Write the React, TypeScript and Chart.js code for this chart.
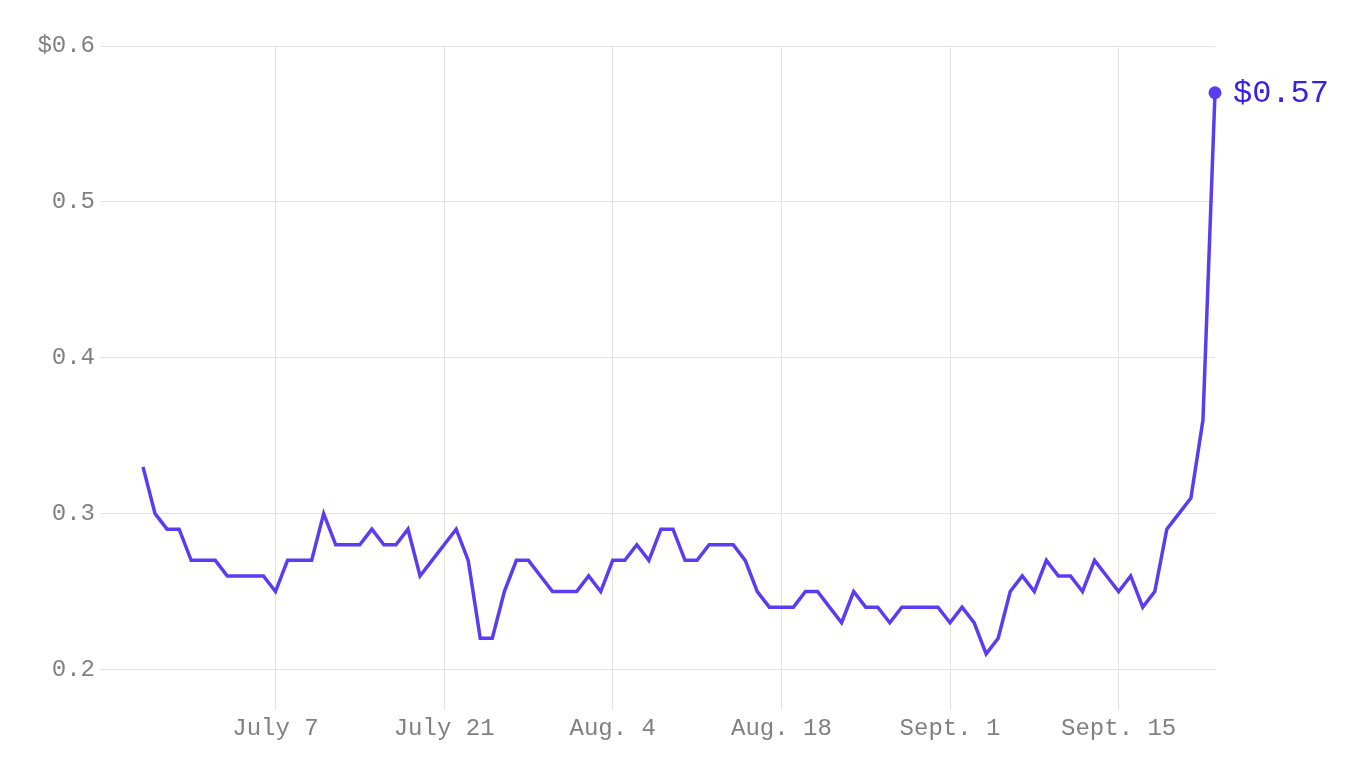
import React, { useEffect, useRef } from "react";
import { Chart, registerables } from "chart.js";

Chart.register(...registerables);

// Daily price, June 26 → Sept. 23
const prices: number[] = [
  0.33, 0.30, 0.29, 0.29, 0.27, // Jun 26-30
  0.27, 0.27, 0.26, 0.26, 0.26, 0.26, 0.25, 0.27, 0.27, 0.27, 0.30, 0.28, 0.28, 0.28, 0.29, 0.28,
  0.28, 0.29, 0.26, 0.27, 0.28, 0.29, 0.27, 0.22, 0.22, 0.25, 0.27, 0.27, 0.26, 0.25, 0.25, // Jul
  0.25, 0.26, 0.25, 0.27, 0.27, 0.28, 0.27, 0.29, 0.29, 0.27, 0.27, 0.28, 0.28, 0.28, 0.27, 0.25,
  0.24, 0.24, 0.24, 0.25, 0.25, 0.24, 0.23, 0.25, 0.24, 0.24, 0.23, 0.24, 0.24, 0.24, 0.24, // Aug
  0.23, 0.24, 0.23, 0.21, 0.22, 0.25, 0.26, 0.25, 0.27, 0.26, 0.26, 0.25, 0.27, 0.26, 0.25, 0.26,
  0.24, 0.25, 0.29, 0.30, 0.31, 0.36, 0.57, // Sep 1-23
];

// x tick positions: days since June 26
const xTickDays: number[] = [11, 25, 39, 53, 67, 81];
const xTickLabels: string[] = ["July 7", "July 21", "Aug. 4", "Aug. 18", "Sept. 1", "Sept. 15"];
const yTickValues: number[] = [0.2, 0.3, 0.4, 0.5, 0.6];
const yTickLabels: string[] = ["0.2", "0.3", "0.4", "0.5", "$0.6"];
const lastLabel = "$0.57";

const LINE = "#5b3cf2";
const LABEL = "#3a20e6";
const GRID = "#e3e3e3";
const TICK = "#808080";
const FONT = "'Liberation Mono', 'DejaVu Sans Mono', monospace";

const endLabelPlugin = {
  id: "endLabel",
  afterDatasetsDraw(chart: any) {
    const meta = chart.getDatasetMeta(0);
    const pt = meta.data[meta.data.length - 1];
    if (!pt) return;
    const ctx = chart.ctx;
    ctx.save();
    ctx.font = `32px ${FONT}`;
    ctx.fillStyle = LABEL;
    ctx.textAlign = "left";
    ctx.textBaseline = "middle";
    ctx.fillText(lastLabel, pt.x + 18, pt.y + 1);
    ctx.restore();
  },
};

export default function App() {
  const ref = useRef<HTMLCanvasElement | null>(null);

  useEffect(() => {
    if (!ref.current) return;
    const points = prices.map((v, i) => ({ x: i, y: v }));
    const last = prices.length - 1;
    const chart = new Chart(ref.current, {
      type: "line",
      data: {
        datasets: [
          {
            data: points,
            borderColor: LINE,
            backgroundColor: LINE,
            borderWidth: 3.5,
            tension: 0,
            pointRadius: (c: any) => (c.dataIndex === last ? 6.5 : 0),
            pointBackgroundColor: LINE,
            pointBorderWidth: 0,
            clip: false as any,
          },
        ],
      },
      options: {
        animation: false,
        responsive: false,
        maintainAspectRatio: false,
        layout: { padding: { left: 0, right: 143, top: 38, bottom: 0 } },
        plugins: { legend: { display: false }, tooltip: { enabled: false } },
        scales: {
          x: {
            type: "linear",
            min: -3.57,
            max: last,
            border: { display: false },
            grid: { color: GRID, lineWidth: 1, drawTicks: false },
            afterBuildTicks: (s: any) => {
              s.ticks = xTickDays.map((d) => ({ value: d }));
            },
            afterFit: (s: any) => {
              s.height = 50;
            },
            ticks: {
              autoSkip: false,
              maxRotation: 0,
              padding: 4,
              color: TICK,
              font: { family: FONT, size: 24 },
              callback: (v: any) => {
                const i = xTickDays.indexOf(Number(v));
                return i >= 0 ? xTickLabels[i] : "";
              },
            },
          },
          y: {
            type: "linear",
            min: 0.174,
            max: 0.6,
            border: { display: false },
            grid: { color: GRID, lineWidth: 1, drawTicks: false },
            afterBuildTicks: (s: any) => {
              s.ticks = yTickValues.map((v) => ({ value: v }));
            },
            afterFit: (s: any) => {
              s.width = 92;
            },
            ticks: {
              padding: 5,
              color: TICK,
              font: { family: FONT, size: 24 },
              callback: (v: any) => {
                const i = yTickValues.findIndex((t) => Math.abs(t - Number(v)) < 1e-6);
                return i >= 0 ? yTickLabels[i] : "";
              },
            },
          },
        },
      },
      plugins: [endLabelPlugin],
    });
    return () => chart.destroy();
  }, []);

  return (
    <div style={{ width: 1350, height: 752, position: "relative" }}>
      <canvas ref={ref} width={1350} height={752} style={{ display: "block" }} />
    </div>
  );
}
